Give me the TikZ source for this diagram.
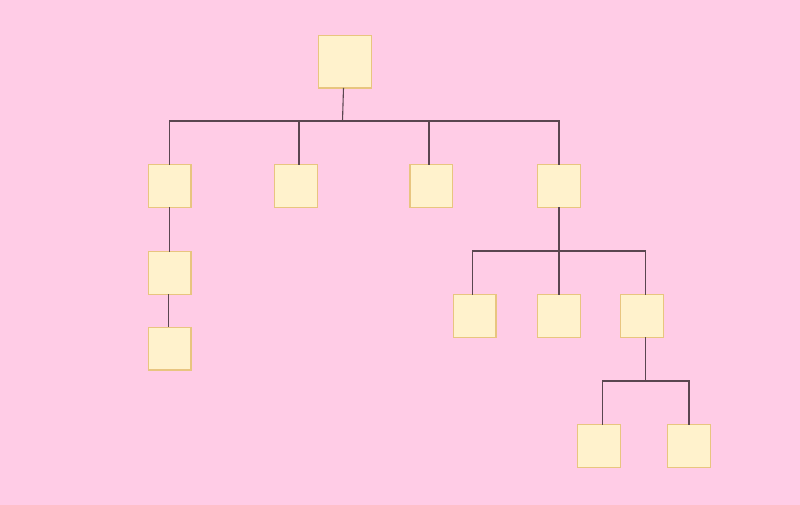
\documentclass[tikz,border=0pt]{standalone}
\begin{document}
\begin{tikzpicture}[x=1pt,y=-1pt,
  box/.style={draw=boxline,fill=boxfill,line width=1.4pt,minimum size=42.6pt,inner sep=0pt,outer sep=0pt},
  bigbox/.style={box,minimum size=52.6pt},
  link/.style={draw=linkcol,line width=1.1pt}]
\definecolor{bg}{HTML}{FFCCE6}
\definecolor{boxfill}{HTML}{FFF2CC}
\definecolor{boxline}{HTML}{E8C57F}
\definecolor{linkcol}{HTML}{5A4650}
\useasboundingbox (0,0) rectangle (800,504);
\fill[bg] (-3,-3) rectangle (803,507);
\node[bigbox] (top) at (345,61.5) {};
\node[box] (b1) at (169.5,186) {};
\node[box] (b2) at (296,186) {};
\node[box] (b3) at (431.3,186) {};
\node[box] (b4) at (559,186) {};
\node[box] (c1) at (169.5,273) {};
\node[box] (c2) at (169.5,348.5) {};
\node[box] (d1) at (474.7,316) {};
\node[box] (d2) at (559,316) {};
\node[box] (d3) at (642,316) {};
\node[box] (e1) at (599,446) {};
\node[box] (e2) at (689,446) {};
\coordinate (j1) at (342.5,121);
\coordinate (j2) at (559,251);
\coordinate (j3) at (645.5,381);
% top level
\draw[link] ([xshift=-1.5pt]top.south) -- (j1);
\draw[link] (j1) -| ([xshift=-0.2pt]b1.north);
\draw[link] (j1) -| ([xshift=3pt]b2.north);
\draw[link] (j1) -| ([xshift=-2.3pt]b3.north);
\draw[link] (j1) -| (b4.north);
% left chain
\draw[link] ([xshift=-0.2pt]b1.south) -- ([xshift=-0.2pt]c1.north);
\draw[link] ([xshift=-0.8pt]c1.south) -- ([xshift=-0.8pt]c2.north);
% right subtree
\draw[link] (b4.south) -- (j2);
\draw[link] (j2) -| ([xshift=-2.4pt]d1.north);
\draw[link] (j2) -- (d2.north);
\draw[link] (j2) -| ([xshift=3.5pt]d3.north);
\draw[link] ([xshift=3.5pt]d3.south) -- (j3);
\draw[link] (j3) -| ([xshift=3.3pt]e1.north);
\draw[link] (j3) -| (e2.north);
\end{tikzpicture}
\end{document}
